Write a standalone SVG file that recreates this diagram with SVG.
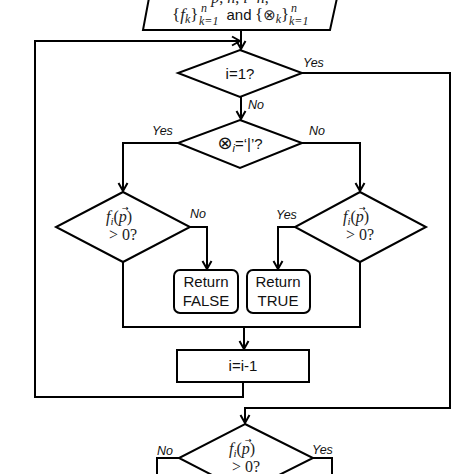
<svg xmlns="http://www.w3.org/2000/svg" width="474" height="474" viewBox="0 0 474 474">
<defs>
<marker id="arr" markerWidth="12" markerHeight="12" refX="10" refY="6" orient="auto" markerUnits="userSpaceOnUse">
<path d="M2,1.5 L10,6 L2,10.5" fill="none" stroke="#000" stroke-width="2"/>
</marker>
<style>
.s{fill:#fff;stroke:#000;stroke-width:2}
.c{fill:none;stroke:#000;stroke-width:2}
.t{font-family:"Liberation Sans",Arial,sans-serif;font-size:15px;fill:#111;text-anchor:middle}
.l{font-family:"Liberation Sans",Arial,sans-serif;font-size:12.5px;font-style:italic;fill:#111}
.m{font-family:"Liberation Serif","DejaVu Serif",serif;font-size:16px;fill:#222}
.mi{font-style:italic}
.sb{font-size:11px}
.ss{font-size:12px}
.big{font-size:17px}
.ar{font-family:"DejaVu Sans",sans-serif;font-size:8px}
</style>
</defs>
<rect width="474" height="474" fill="#fff"/>
<g id="connectors">
<path class="c" d="M241,30 V49" marker-end="url(#arr)"/>
<path class="c" d="M243,382 V397 H35 V41 H240" marker-end="url(#arr)"/>
<path class="c" d="M241,97 V119" marker-end="url(#arr)"/>
<path class="c" d="M302,73 H450 V408 H245 V423" marker-end="url(#arr)"/>
<path class="c" d="M178,143 H123 V191" marker-end="url(#arr)"/>
<path class="c" d="M302,143 H360 V191" marker-end="url(#arr)"/>
<path class="c" d="M190,227 H207 V269" marker-end="url(#arr)"/>
<path class="c" d="M295,227 H278 V269" marker-end="url(#arr)"/>
<path class="c" d="M123,262 V327 H360 V262"/>
<path class="c" d="M244,327 V349" marker-end="url(#arr)"/>
<path class="c" d="M179,458 H157 V474"/>
<path class="c" d="M313,458 H332 V474"/>
<text class="l" x="303" y="67">Yes</text>
<text class="l" x="248" y="109">No</text>
<text class="l" x="152" y="135">Yes</text>
<text class="l" x="309" y="135">No</text>
<text class="l" x="190" y="218">No</text>
<text class="l" x="276" y="219">Yes</text>
<text class="l" x="157" y="455">No</text>
<text class="l" x="312" y="454">Yes</text>
</g>
<g id="input">
<polygon class="s" points="149,-2 337,-2 330,30 143,30"/>
<text class="m" x="240" y="3" text-anchor="middle"><tspan class="mi">p</tspan>, <tspan class="mi">n</tspan>, <tspan class="mi">i</tspan>=<tspan class="mi">n</tspan>,</text>
<text class="m big" x="172" y="20">{<tspan class="mi">f</tspan><tspan class="mi ss" dy="3">k</tspan><tspan dy="-3">}</tspan></text>
<text class="m mi ss" x="201" y="12">n</text>
<text class="m mi ss" x="199" y="25">k=1</text>
<text class="t" x="239" y="20">and</text>
<text class="m big" x="255" y="20">{<tspan style="font-family:'DejaVu Sans',sans-serif;font-size:15px">⊗</tspan><tspan class="mi ss" dy="3">k</tspan><tspan dy="-3">}</tspan></text>
<text class="m mi ss" x="291" y="12">n</text>
<text class="m mi ss" x="289" y="25">k=1</text>
</g>
<g id="d1">
<polygon class="s" points="240,50 302,73 240,97 178,73"/>
<text class="t" x="240" y="79">i=1?</text>
</g>
<g id="d2">
<polygon class="s" points="240,120 302,143 240,168 178,143"/>
<text class="t" x="240" y="149"><tspan style="font-family:'DejaVu Sans',sans-serif;font-size:18px">⊗</tspan><tspan style="font-style:italic;font-size:11px" dy="3">i</tspan><tspan dy="-3">=‘|’?</tspan></text>
</g>
<g id="d3">
<polygon class="s" points="123,192 190,227 123,262 56,227"/>
<text class="m" x="106" y="222"><tspan class="mi">f</tspan><tspan class="mi sb" dy="3">i</tspan><tspan dy="-3">(</tspan><tspan class="mi">p</tspan><tspan>)</tspan></text>
<text class="ar" x="122" y="211">→</text>
<text class="m" x="123" y="240" text-anchor="middle">&gt; 0?</text>
</g>
<g id="d4">
<polygon class="s" points="360,192 426,227 360,262 295,227"/>
<text class="m" x="343" y="222"><tspan class="mi">f</tspan><tspan class="mi sb" dy="3">i</tspan><tspan dy="-3">(</tspan><tspan class="mi">p</tspan><tspan>)</tspan></text>
<text class="ar" x="359" y="211">→</text>
<text class="m" x="360" y="240" text-anchor="middle">&gt; 0?</text>
</g>
<g id="rfalse">
<rect class="s" x="174" y="270" width="64" height="43" rx="6"/>
<text class="t" x="206" y="287">Return</text>
<text class="t" x="206" y="306">FALSE</text>
</g>
<g id="rtrue">
<rect class="s" x="247" y="270" width="63" height="43" rx="6"/>
<text class="t" x="278" y="287">Return</text>
<text class="t" x="278" y="306">TRUE</text>
</g>
<g id="dec">
<rect class="s" x="177" y="350" width="132" height="32"/>
<text class="t" x="243" y="371">i=i-1</text>
</g>
<g id="d5">
<polygon class="s" points="245,424 313,458 245,492 179,458"/>
<text class="m" x="229" y="454"><tspan class="mi">f</tspan><tspan class="mi sb" dy="3">i</tspan><tspan dy="-3">(</tspan><tspan class="mi">p</tspan><tspan>)</tspan></text>
<text class="ar" x="245" y="443">→</text>
<text class="m" x="246" y="472" text-anchor="middle">&gt; 0?</text>
</g>
</svg>
